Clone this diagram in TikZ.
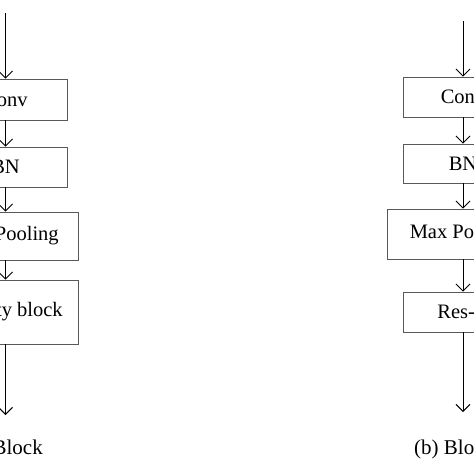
\documentclass[tikz,border=0pt]{standalone}
\usepackage{fontspec}
\setmainfont{Liberation Serif}
\usetikzlibrary{arrows.meta}

\begin{document}
\begin{tikzpicture}[x=1pt,y=-1pt]
      \useasboundingbox (0,0) rectangle (474,474);
      \clip (0,0) rectangle (474,474);

      % (a)
      \begin{scope}[every node/.style={rectangle, draw=black!65, line width=0.8pt, inner sep=0pt, font=\fontsize{20.5}{24}\selectfont}]
        \node[minimum width=123, minimum height=41] (a0) at (5.5,99.5) {Conv};
        \node[minimum width=123, minimum height=40] (a1) at (5.5,167) {BN};
        \node[minimum width=145, minimum height=48] (a2) at (5.5,236) {Max Pooling};
        \node[minimum width=145, minimum height=64] (a3) at (5.5,312) {Identity block};
      \end{scope}
      \coordinate (aIn) at (5.5,13);
      \coordinate (aOut) at (5.5,415);

      \begin{scope}[-{Straight Barb[length=7pt,width=14pt]}, line width=0.9pt]
        \draw (aIn) to (a0);
        \draw (a0) to (a1);
        \draw (a1) to (a2);
        \draw (a2) to (a3);
        \draw (a3) to (aOut);
      \end{scope}

      \node[anchor=base east, inner sep=0pt, font=\fontsize{21}{24}\selectfont] (aCap) at (43,454) {(a) Block};

      % (b)
      \begin{scope}[every node/.style={rectangle, draw=black!65, line width=0.8pt, inner sep=0pt, font=\fontsize{20.5}{24}\selectfont}]
        \node[minimum width=120, minimum height=40] (b0) at (463,97) {Conv};
        \node[minimum width=120, minimum height=39] (b1) at (463,163.5) {BN};
        \node[minimum width=152, minimum height=50] (b2) at (463,234) {Max Pooling};
        \node[minimum width=120, minimum height=40] (b3) at (463,312) {Res-B};
      \end{scope}
      \coordinate (bIn) at (463,21);
      \coordinate (bOut) at (463,412);

      \begin{scope}[-{Straight Barb[length=7pt,width=14pt]}, line width=0.9pt]
        \draw (bIn) to (b0);
        \draw (b0) to (b1);
        \draw (b1) to (b2);
        \draw (b2) to (b3);
        \draw (b3) to (bOut);
      \end{scope}

      \node[anchor=base west, inner sep=0pt, font=\fontsize{21}{24}\selectfont] (bCap) at (414,454) {(b) Block};
   \end{tikzpicture}
\end{document}
